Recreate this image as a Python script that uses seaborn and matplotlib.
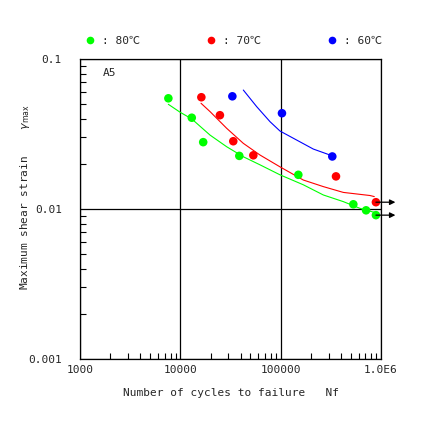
import numpy as np
import pandas as pd
import matplotlib
matplotlib.use("Agg")
import matplotlib.pyplot as plt
from matplotlib.lines import Line2D
from matplotlib.ticker import FixedLocator, LogLocator, NullFormatter
import seaborn as sns

# measured points
temps = ["80℃", "70℃", "60℃"]
colors = {"80℃": "#00ff00", "70℃": "#ff0000", "60℃": "#0000ff"}

nf_80 = [7600, 13000, 16900, 38700, 150000, 530000, 710000, 890000]
gam_80 = [0.0547, 0.0406, 0.0279, 0.0226, 0.0169, 0.01075, 0.0098, 0.0091]
nf_70 = [16200, 24800, 33700, 53400, 356000, 890000]
gam_70 = [0.0556, 0.0422, 0.0283, 0.0228, 0.0165, 0.0111]
nf_60 = [33000, 103000, 327000]
gam_60 = [0.0564, 0.0435, 0.0224]

# run-outs (no failure), shown with arrows
runout_nf = [890000, 890000]
runout_gam = [0.0111, 0.0091]

# fitted curves
fit_nf_80 = [7590, 9930, 12970, 19770, 28980, 42430, 62230, 98450, 168200, 266300, 421000, 617600, 905400]
fit_gam_80 = [0.0499, 0.0442, 0.0399, 0.0311, 0.0260, 0.0223, 0.0197, 0.0169, 0.0145, 0.0124, 0.0112, 0.0101, 0.0094]
fit_nf_70 = [16070, 19770, 28980, 42430, 62230, 98450, 168200, 266300, 421000, 776300, 857000]
fit_gam_70 = [0.0507, 0.0446, 0.0345, 0.0274, 0.0229, 0.0191, 0.0156, 0.0141, 0.0129, 0.0123, 0.0121]
fit_nf_60 = [42430, 57700, 78340, 98450, 144600, 211500, 310300]
fit_gam_60 = [0.0621, 0.0481, 0.0382, 0.0331, 0.0288, 0.0251, 0.0229]

pts = pd.concat([
    pd.DataFrame({"Nf": nf_80, "gamma": gam_80, "T": "80℃"}),
    pd.DataFrame({"Nf": nf_70, "gamma": gam_70, "T": "70℃"}),
    pd.DataFrame({"Nf": nf_60, "gamma": gam_60, "T": "60℃"}),
])
fits = pd.concat([
    pd.DataFrame({"Nf": fit_nf_80, "gamma": fit_gam_80, "T": "80℃"}),
    pd.DataFrame({"Nf": fit_nf_70, "gamma": fit_gam_70, "T": "70℃"}),
    pd.DataFrame({"Nf": fit_nf_60, "gamma": fit_gam_60, "T": "60℃"}),
])

sns.set_style("white")
plt.rcParams["font.family"] = ["DejaVu Sans Mono", "Noto Sans CJK JP"]
plt.rcParams["mathtext.fontset"] = "dejavusans"
fs = 8

fig = plt.figure(figsize=(4.4, 4.4), dpi=100)
ax = fig.add_axes([80 / 440, 1 - 359 / 440, 301 / 440, 300 / 440])

sns.lineplot(data=fits, x="Nf", y="gamma", hue="T", palette=colors,
             estimator=None, sort=False, lw=0.8, legend=False, ax=ax)
sns.scatterplot(data=pts, x="Nf", y="gamma", hue="T", palette=colors,
                s=38, edgecolor="none", legend=False, ax=ax, zorder=3)

for x, y in zip(runout_nf, runout_gam):
    ax.annotate("", xy=(x, y), xycoords="data", xytext=(14, 0),
                textcoords="offset points", annotation_clip=False,
                arrowprops=dict(arrowstyle="<|-", color="k", lw=0.9,
                                mutation_scale=8, shrinkA=0, shrinkB=0))

ax.set_xscale("log")
ax.set_yscale("log")
ax.set_xlim(1000, 1e6)
ax.set_ylim(0.001, 0.1)

ax.xaxis.set_major_locator(FixedLocator([1e3, 1e4, 1e5, 1e6]))
ax.set_xticklabels(["1000", "10000", "100000", "1.0E6"], fontsize=fs)
ax.yaxis.set_major_locator(FixedLocator([1e-3, 1e-2, 1e-1]))
ax.set_yticklabels(["0.001", "0.01", "0.1"], fontsize=fs)
ax.xaxis.set_minor_locator(LogLocator(base=10, subs=np.arange(2, 10), numticks=20))
ax.yaxis.set_minor_locator(LogLocator(base=10, subs=np.arange(2, 10), numticks=20))
ax.xaxis.set_minor_formatter(NullFormatter())
ax.yaxis.set_minor_formatter(NullFormatter())
ax.tick_params(which="major", length=0, pad=4)
ax.tick_params(axis="y", which="major", pad=13)
ax.tick_params(which="minor", direction="in", length=4, width=0.8, color="k",
               bottom=True, left=True, top=False, right=False)
ax.grid(True, which="major", color="k", lw=0.9)
for s in ax.spines.values():
    s.set_color("k")
    s.set_linewidth(0.9)

ax.set_xlabel("Number of cycles to failure   Nf", fontsize=fs)
ax.xaxis.set_label_coords(0.5, -0.095)
ax.set_ylabel(r"Maximum shear strain    $\gamma_{\rm max}$", fontsize=fs)
ax.yaxis.set_label_coords(-0.16, 0.54)
ax.text(0.076, 0.953, "A5", transform=ax.transAxes, fontsize=fs, va="center")

handles = [Line2D([], [], ls="none", marker="o", ms=5.5, mec="none",
                  mfc=colors[t]) for t in temps]
ax.legend(handles, [": " + t for t in temps], ncol=3, loc="lower center",
          bbox_to_anchor=(0.512, 1.03), frameon=False, fontsize=fs,
          handlelength=0.6, handletextpad=0.8, columnspacing=6.05,
          borderaxespad=0)

fig.savefig("out.png", dpi=100)
